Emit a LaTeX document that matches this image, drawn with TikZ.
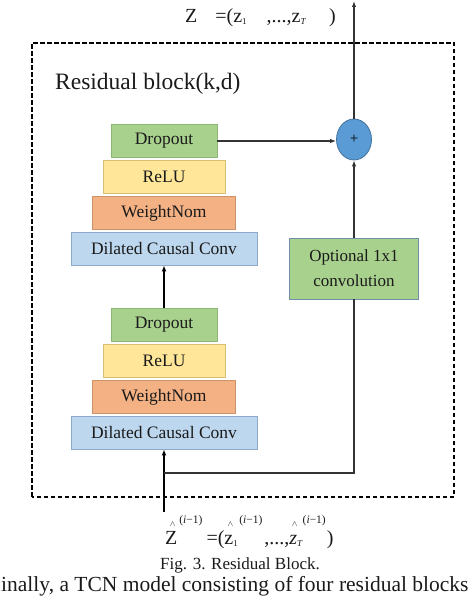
\documentclass[tikz,border=0pt]{standalone}
\usepackage{fontspec}
\setmainfont{Liberation Serif}
\usepackage{tikz}
\usetikzlibrary{positioning,shapes.geometric,arrows.meta}
\definecolor{dropfill}{HTML}{A9D18E}
\definecolor{dropline}{HTML}{8DB873}
\definecolor{relufill}{HTML}{FFE699}
\definecolor{reluline}{HTML}{D6BE72}
\definecolor{wnfill}{HTML}{F4B183}
\definecolor{wnline}{HTML}{C9926B}
\definecolor{dccfill}{HTML}{BDD7EE}
\definecolor{dccline}{HTML}{8EAACB}
\definecolor{optline}{HTML}{6F8FA8}
\definecolor{addfill}{HTML}{5B9BD5}
\definecolor{addline}{HTML}{41719C}
\definecolor{ink}{HTML}{1A1A1A}
\definecolor{wirec}{HTML}{333333}
\newcommand{\fsz}[1]{\fontsize{#1}{#1}\selectfont}
\newlength{\letterw}
\newcommand{\hatmark}[1]{\settowidth{\letterw}{#1}%
  \makebox[0pt][l]{\hspace{1.5pt}\makebox[\letterw]{\raisebox{18pt}{\fsz{8}$\wedge$}}}#1}
\newcommand{\supim}{\raisebox{21pt}{\fsz{11.5}(\textit{i}−1)}}
\newcommand{\sbs}[1]{\raisebox{-1.5pt}{\fsz{9}#1}}
\tikzset{
  layer/.style={draw, line width=0.8pt, minimum height=33pt, inner sep=0pt, outer sep=0pt, text=ink, font=\fsz{17.5}},
  dropbox/.style={layer, fill=dropfill, draw=dropline, minimum width=106pt},
  relubox/.style={layer, fill=relufill, draw=reluline, minimum width=122pt},
  wnbox/.style={layer, fill=wnfill, draw=wnline, minimum width=143pt},
  dccbox/.style={layer, fill=dccfill, draw=dccline, minimum width=186pt},
  wire/.style={draw=wirec, line width=1.2pt, -{Latex[length=6pt,width=4.5pt]}},
  bigwire/.style={draw=black, line width=2.2pt, -{Latex[length=6pt,width=5pt]}},
  lab/.style={text=ink, inner sep=0pt},
}
\begin{document}
\begin{tikzpicture}[x=1pt,y=1pt]
  \useasboundingbox (0,0) rectangle (474,607);
  % residual block frame
  \draw[black, line width=1.4pt, dash pattern=on 4.5pt off 2.5pt] (32,110) rectangle (454,564);
  \node[lab, anchor=base west, font=\fsz{23.5}] (title) at (55,517) {Residual block(k,d)};

  % lower stack
  \node[dccbox] (dcc1) at (164,174) {Dilated Causal Conv};
  \node[wnbox, above=3pt of dcc1] (wn1) {WeightNom};
  \node[relubox, above=3pt of wn1] (relu1) {ReLU};
  \node[dropbox, above=3pt of relu1] (drop1) {Dropout};
  % upper stack
  \node[dccbox, above=43pt of drop1] (dcc2) {Dilated Causal Conv};
  \node[wnbox, above=3pt of dcc2] (wn2) {WeightNom};
  \node[relubox, above=3pt of wn2] (relu2) {ReLU};
  \node[dropbox, above=3pt of relu2] (drop2) {Dropout};

  % skip path
  \node[layer, fill=dropfill, draw=optline, minimum width=129pt, minimum height=61pt,
        align=center, font=\fontsize{17}{25}\selectfont] (conv) at (354,338.5) {Optional 1x1\\convolution};
  \node[ellipse, fill=addfill, draw=addline, line width=0.8pt, minimum width=35pt,
        minimum height=41pt, inner sep=0pt, font=\fsz{15}] (add) at (354,467.5) {+};

  \coordinate (zin) at (164,95);
  \coordinate (fork) at (164,134);
  \coordinate (zout) at (354,606);
  \draw[bigwire] (zin) -- (dcc1.south);
  \draw[bigwire] (drop1.north) -- (dcc2.south);
  \draw[wire, -] (fork) -- (fork -| conv.south) -- (conv.south);
  \draw[wire] (conv.north) -- (add.south);
  \draw[wire] (drop2.east) -- (drop2.east -| add.west);
  \draw[wire] (add.north) -- (zout);

  % sequences
  \node[lab, anchor=base west, font=\fsz{20}] (zhatout) at (185,584)
    {Z\hspace{18pt}=(z\sbs{1}\hspace{20pt},...,z\sbs{\textit{T}}\hspace{23pt})};
  \node[lab, anchor=base west, font=\fsz{20}] (zhatin) at (165,62)
    {\hatmark{Z}\hspace{2pt}\supim\hspace{4pt}=(\hatmark{z}\sbs{1}\hspace{1.5pt}\supim\hspace{2pt},...,\hatmark{\textit{z}}\sbs{\textit{T}}\supim\hspace{1pt})};
  \node[lab, anchor=base, font=\fsz{17}] (caption) at (240,37) {Fig. 3. Residual Block.};
  \node[lab, anchor=base west, font=\fsz{21.5}] (bodyline) at (1,15) {inally, a TCN model consisting of four residual blocks};
\end{tikzpicture}
\end{document}
